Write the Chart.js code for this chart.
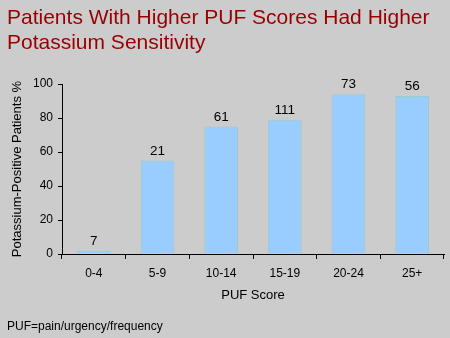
<!DOCTYPE html>
<html>
<head>
<meta charset="utf-8">
<title>PUF Score vs Potassium Sensitivity</title>
<script src="https://cdn.jsdelivr.net/npm/chart.js@4.4.1/dist/chart.umd.min.js"></script>
<style>
  html, body { margin: 0; padding: 0; background: #cccccc; }
  #chart { display: block; background: #cccccc; }
</style>
</head>
<body>
<canvas id="chart" width="450" height="338"></canvas>
<script>
// ---------- Data ----------
const scoreBins = ['0-4', '5-9', '10-14', '15-19', '20-24', '25+'];
const positivePct = [2, 55, 75, 79, 94, 93];      // % potassium-positive
const patientCounts = [7, 21, 61, 111, 73, 56];   // n per bin, printed above bars

const FONT = '"Liberation Sans", Arial, Helvetica, sans-serif';

// n labels above each bar
const countLabels = {
  id: 'countLabels',
  afterDatasetsDraw(chart){
    const { ctx } = chart;
    const meta = chart.getDatasetMeta(0);
    ctx.save();
    ctx.font = '13.5px ' + FONT;
    ctx.fillStyle = '#000';
    ctx.textAlign = 'center';
    ctx.textBaseline = 'alphabetic';
    meta.data.forEach((bar, i) => {
      ctx.fillText(String(patientCounts[i]), bar.x, bar.y - 6);
    });
    ctx.restore();
  }
};

const ctx = document.getElementById('chart').getContext('2d');
new Chart(ctx, {
  type: 'bar',
  data: {
    labels: scoreBins,
    datasets: [{
      data: positivePct,
      backgroundColor: '#99ccff',
      borderColor: '#99cccc',
      borderWidth: 1,
      categoryPercentage: 1,
      barPercentage: 0.53
    }]
  },
  options: {
    responsive: false,
    animation: false,
    devicePixelRatio: 1,
    layout: { padding: { left: 7, right: 6, top: 0, bottom: 0 } },
    plugins: {
      legend: { display: false },
      tooltip: { enabled: false },
      title: {
        display: true,
        text: ['Patients With Higher PUF Scores Had Higher', 'Potassium Sensitivity'],
        align: 'start',
        color: '#990000',
        font: { family: FONT, size: 21, weight: 'normal', lineHeight: 1.18 },
        padding: { top: 6, bottom: 28.5 }
      },
      subtitle: {
        display: true,
        position: 'bottom',
        align: 'start',
        text: 'PUF=pain/urgency/frequency',
        color: '#000',
        font: { family: FONT, size: 12, weight: 'normal', lineHeight: 1.2 },
        padding: { top: 0, bottom: 4.3 }
      }
    },
    scales: {
      x: {
        afterFit(scale){ scale.height = 65.3; },
        grid: {
          offset: true,
          drawOnChartArea: false,
          drawTicks: true,
          tickLength: 5,
          color: '#000'
        },
        border: { display: true, color: '#000', width: 1 },
        ticks: {
          color: '#000',
          padding: 7,
          font: { family: FONT, size: 12 }
        },
        title: {
          display: true,
          text: 'PUF Score',
          color: '#000',
          font: { family: FONT, size: 13 },
          padding: { top: 0, bottom: 16 }
        }
      },
      y: {
        min: 0,
        max: 100,
        afterFit(scale){ scale.width = 55; },
        grid: {
          drawOnChartArea: false,
          drawTicks: true,
          tickLength: 4,
          color: '#000'
        },
        border: { display: true, color: '#000', width: 1 },
        ticks: {
          stepSize: 20,
          color: '#000',
          padding: 5,
          font: { family: FONT, size: 12 }
        },
        title: {
          display: true,
          text: 'Potassium-Positive Patients %',
          color: '#000',
          font: { family: FONT, size: 13 },
          padding: { top: 3, bottom: 0 }
        }
      }
    }
  },
  plugins: [countLabels]
});
</script>
</body>
</html>
